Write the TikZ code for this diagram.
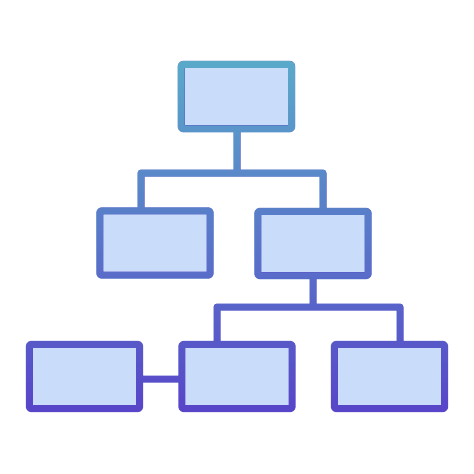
\documentclass[tikz,border=0pt]{standalone}
\usetikzlibrary{fadings}
\definecolor{topcol}{HTML}{5BAACA}
\definecolor{botcol}{HTML}{5845C9}
\definecolor{boxfill}{HTML}{C9DCFA}
\tikzset{
  boxnode/.style={fill=boxfill, draw=none, inner sep=0pt, minimum width=110pt, minimum height=64pt},
  strokes/.style={line width=7pt, line join=round, line cap=butt}
}
\newcommand{\myoutline}{%
  [rounded corners=2pt] (top.north west) rectangle (top.south east)
  (ml.north west) rectangle (ml.south east)
  (mr.north west) rectangle (mr.south east)
  (bl.north west) rectangle (bl.south east)
  (bm.north west) rectangle (bm.south east)
  (br.north west) rectangle (br.south east)
  [sharp corners]
  (top.south -| jt) -- (jt)
  (ml.north -| j1) -- (j1) -- (j2) -- (mr.north -| j2)
  (mr.south -| jm) -- (jm)
  (bm.north -| j3) -- (j3) -- (j4) -- (br.north -| j4)
  ([yshift=-2.5pt]bl.east) -- ([yshift=-2.5pt]bm.west)
}
\begin{document}
\begin{tikzpicture}[x=1pt,y=-1pt]
\useasboundingbox (0,0) rectangle (474,474);
\node[boxnode] (top) at (236.5,96.5) {};
\node[boxnode] (ml) at (155,243) {};
\node[boxnode] (mr) at (313,243.5) {};
\node[boxnode] (bl) at (84.5,376.5) {};
\node[boxnode] (bm) at (237,376.5) {};
\node[boxnode] (br) at (389.5,376.5) {};
\coordinate (jt) at (237,173);
\coordinate (j1) at (141,173);
\coordinate (j2) at (323,173);
\coordinate (jm) at (313,307);
\coordinate (j3) at (217,307);
\coordinate (j4) at (400,307);
\draw[strokes, draw=botcol] \myoutline;
\draw[strokes, draw=topcol, path fading=south] \myoutline;
\end{tikzpicture}
\end{document}
